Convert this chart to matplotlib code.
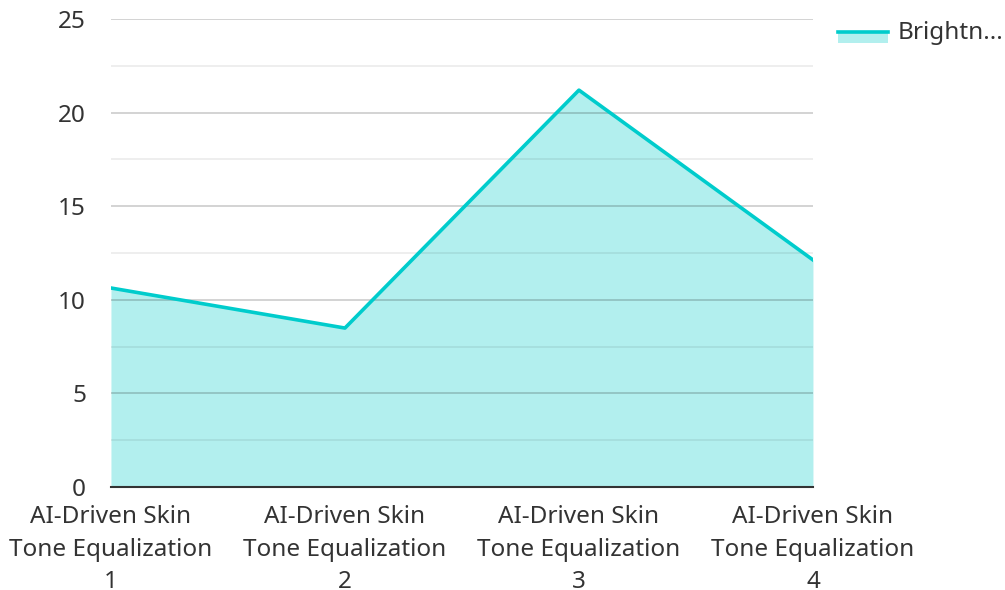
"""
Area chart of brightness scores for four skin tone equalization runs
"""

import matplotlib
matplotlib.use('Agg')
from matplotlib import pyplot as plt
from matplotlib.lines import Line2D
from matplotlib.patches import Rectangle

categories = ['AI-Driven Skin\nTone Equalization\n1',
              'AI-Driven Skin\nTone Equalization\n2',
              'AI-Driven Skin\nTone Equalization\n3',
              'AI-Driven Skin\nTone Equalization\n4']
brightness = [10.63, 8.49, 21.2, 12.13]
y_ticks = [0, 5, 10, 15, 20, 25]

line_color = '#00cccc'
fill_color = '#b2efee'
text_color = '#333333'

plt.rcParams['font.family'] = ['Noto Sans', 'DejaVu Sans']

fig = plt.figure(figsize=(10.05, 5.9), dpi=100)
ax = fig.add_axes([0.1104, 0.1746, 0.6985, 0.7932])

x = list(range(len(categories)))
ax.fill_between(x, brightness, 0, color=fill_color, linewidth=0, zorder=2)
ax.plot(x, brightness, color=line_color, linewidth=2.6, zorder=3)

ax.set_xlim(0, len(categories) - 1)
ax.set_ylim(0, 25)
ax.set_yticks(y_ticks)
ax.set_yticks([2.5, 7.5, 12.5, 17.5, 22.5], minor=True)
ax.set_xticks(x)
ax.set_xticklabels(categories, linespacing=1.47)

# semi-transparent grid so it shows through the filled area
ax.grid(axis='y', which='major', color='black', alpha=0.2, linewidth=1.2,
        zorder=2.5)
ax.grid(axis='y', which='minor', color='black', alpha=0.08, linewidth=1.2,
        zorder=2.5)
ax.set_axisbelow(False)

for side in ['top', 'right', 'left']:
    ax.spines[side].set_visible(False)
ax.spines['bottom'].set_color(text_color)
ax.spines['bottom'].set_linewidth(1.5)
ax.spines['bottom'].set_zorder(4)

ax.tick_params(axis='both', which='both', length=0, labelsize=17.5,
               labelcolor=text_color)
ax.tick_params(axis='y', pad=18)
ax.tick_params(axis='x', pad=13)

# Legend swatch: filled band with the line along its top edge
fig.patches.append(Rectangle((838 / 1005, 1 - 43 / 590), 50 / 1005, 12 / 590,
                             transform=fig.transFigure, facecolor=fill_color,
                             edgecolor='none'))
fig.lines.append(Line2D([838 / 1005, 888 / 1005], [1 - 32 / 590, 1 - 32 / 590],
                        transform=fig.transFigure, color=line_color,
                        linewidth=2.6))
fig.text(898 / 1005, 1 - 33 / 590, 'Brightn...', fontsize=17.5,
         color=text_color, va='center', ha='left')

fig.savefig('out.png', dpi=100)
